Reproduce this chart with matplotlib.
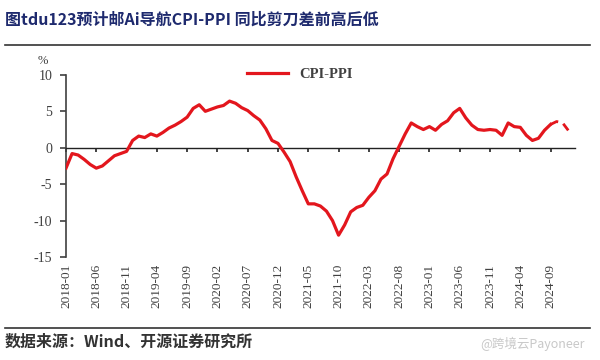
import matplotlib
matplotlib.use("Agg")
from matplotlib import pyplot as plt
from matplotlib.lines import Line2D
import numpy as np

# CPI-PPI spread, monthly 2018-01 .. 2024-09 (actual)
actual = [-2.8, -0.8, -1.0, -1.6, -2.3, -2.8, -2.5, -1.8, -1.1, -0.8, -0.5, 1.0,
          1.6, 1.4, 1.9, 1.6, 2.1, 2.7, 3.1, 3.6, 4.2, 5.4, 5.9, 5.0,
          5.3, 5.6, 5.8, 6.4, 6.1, 5.5, 5.1, 4.4, 3.8, 2.6, 1.0, 0.6,
          -0.6, -1.9, -4.0, -5.9, -7.7, -7.7, -8.0, -8.7, -10.0, -12.0, -10.6, -8.8,
          -8.2, -7.9, -6.8, -5.9, -4.3, -3.6, -1.5, 0.2, 1.9, 3.4, 2.9, 2.5,
          2.9, 2.4, 3.2, 3.7, 4.8, 5.4, 4.1, 3.1, 2.5, 2.4, 2.5, 2.4,
          1.7, 3.4, 2.9, 2.8, 1.7, 1.0, 1.3, 2.4, 3.2]
# forecast 2024-09 .. 2024-12 (dashed)
forecast = [3.2, 3.6, 3.4, 2.3]

tick_labels = ["2018-01", "2018-06", "2018-11", "2019-04", "2019-09", "2020-02",
               "2020-07", "2020-12", "2021-05", "2021-10", "2022-03", "2022-08",
               "2023-01", "2023-06", "2023-11", "2024-04", "2024-09"]
yticks = [-15, -10, -5, 0, 5, 10]

title = "图tdu123预计邮Ai导航CPI-PPI 同比剪刀差前高后低"
source = "数据来源：Wind、开源证券研究所"

cjk = ["Noto Sans CJK SC", "DejaVu Sans"]
serif = "Liberation Serif"
red = "#E3161D"
grey = "#404040"

fig = plt.figure(figsize=(6, 3.6), dpi=100)
ax = fig.add_axes([0.11, 0.286, 0.848, 0.506])

x_act = np.arange(len(actual))
x_fc = np.arange(len(actual) - 1, len(actual) - 1 + len(forecast))
ax.plot(x_act, actual, color=red, lw=2.3, solid_joinstyle="round", zorder=3)
ax.plot(x_fc, forecast, color=red, lw=2.0, ls=(0, (3, 2)), zorder=3)

ax.set_xlim(0, 84)
ax.set_ylim(-15, 10)

# zero line carries the x ticks
for s in ["top", "right"]:
    ax.spines[s].set_visible(False)
ax.spines["bottom"].set_position(("data", 0))
ax.spines["bottom"].set_linewidth(1.0)
ax.spines["bottom"].set_color("#222222")
ax.spines["left"].set_linewidth(1.2)
ax.spines["left"].set_color(grey)

tick_pos = np.arange(len(tick_labels)) * 5
ax.set_xticks(tick_pos)
ax.tick_params(axis="x", direction="out", length=3, width=1.2, color="#222222",
               labelbottom=False)
ax.set_yticks(yticks)
ax.set_yticklabels([str(v) for v in yticks], fontfamily=serif, fontsize=10, color=grey)
ax.tick_params(axis="y", direction="out", length=4, width=1.2, color=grey, pad=6)

# date labels at the bottom
sec = ax.secondary_xaxis("bottom")
sec.set_xticks(tick_pos)
sec.set_xticklabels(tick_labels, rotation=90, fontfamily=serif, fontsize=9.5, color=grey)
sec.tick_params(length=0, pad=5)
sec.spines["bottom"].set_visible(False)

ax.text(-0.045, 1.075, "%", transform=ax.transAxes, fontfamily=serif, fontsize=9,
        color=grey, ha="center", va="center")

leg = ax.legend([Line2D([], [], color=red, lw=2.3)], ["CPI-PPI"], loc="upper center",
                bbox_to_anchor=(0.46, 1.11), frameon=False, handlelength=2.8,
                prop={"family": serif, "weight": "bold", "size": 10.5})
for t in leg.get_texts():
    t.set_color(grey)

# header and footer
fig.text(0.008, 0.945, title, fontfamily=cjk, fontsize=11.5, fontweight="bold",
         color="#1E2A6E", va="center")
fig.add_artist(Line2D([0.008, 0.983], [0.875, 0.875], color="#333333", lw=1.2))
fig.add_artist(Line2D([0.008, 0.983], [0.088, 0.088], color="#333333", lw=1.2))
fig.text(0.008, 0.052, source, fontfamily=cjk, fontsize=11.5, fontweight="bold",
         color="#333333", va="center")
fig.text(0.975, 0.045, "@跨境云Payoneer", fontfamily=cjk, fontsize=9,
         color="#C8C8C8", va="center", ha="right")

fig.savefig("out.png", dpi=100)
